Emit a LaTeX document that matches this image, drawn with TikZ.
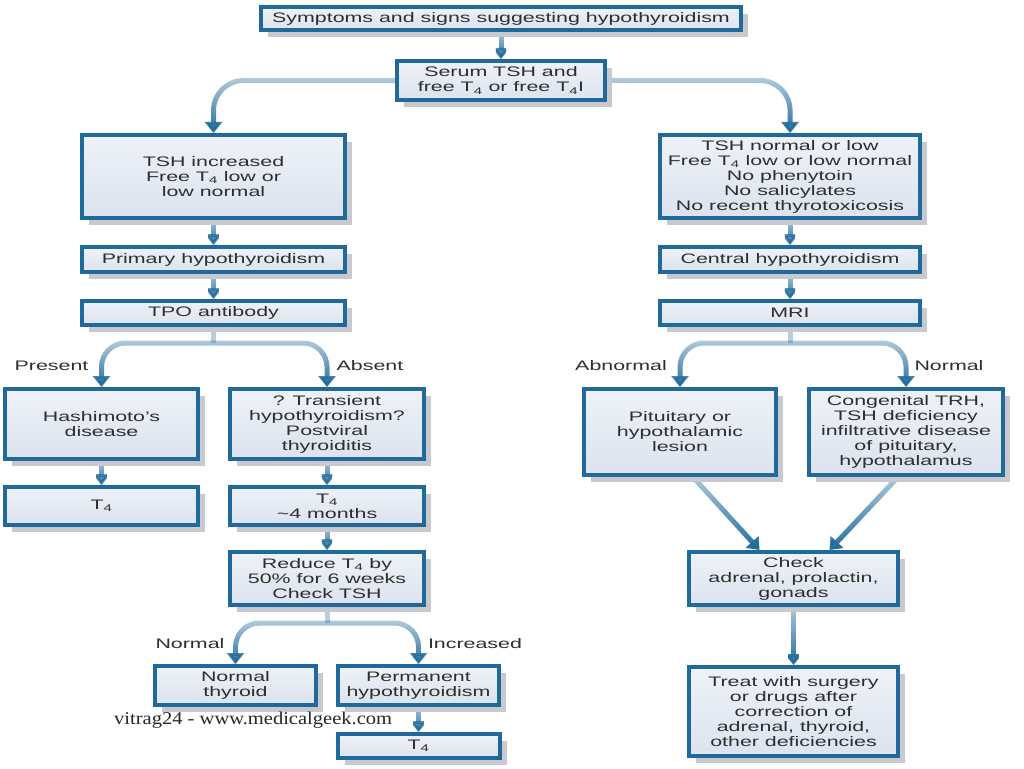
\documentclass[tikz,border=0pt]{standalone}
\usepackage{fontspec}
\setmainfont{Liberation Sans}[FakeStretch=1.55]
\newfontfamily\wmfont{Liberation Serif}[FakeStretch=1.14]
\usetikzlibrary{arrows.meta,shadows,fadings,calc}
\definecolor{bordercol}{HTML}{1F6A9A}
\definecolor{arrowcol}{HTML}{1F6A9A}
\definecolor{fillA}{HTML}{EEF2F8}
\definecolor{fillB}{HTML}{DCE3EE}
\definecolor{shadowcol}{HTML}{C8C9CE}
\definecolor{textcol}{HTML}{2E2E2E}
\tikzfading[name=arrowfade, top color=transparent!65, bottom color=transparent!0]
\pgfdeclarelayer{bglayer}
\pgfdeclarelayer{arrowlayer}
\pgfsetlayers{bglayer,arrowlayer,main}
\begin{document}
\begin{tikzpicture}[x=1pt,y=-1pt,
  box/.style={draw=bordercol, line width=4pt, top color=fillA, bottom color=fillB,
    text=textcol, align=center, inner sep=2pt, font=\fontsize{13.8}{15}\selectfont,
    drop shadow={shadow xshift=7pt, shadow yshift=-7pt, fill=shadowcol, opacity=1}},
  lbl/.style={text=textcol, font=\fontsize{13.8}{15}\selectfont, inner sep=0pt},
  arr/.style={draw=arrowcol, line width=5pt, -{Triangle[width=17pt,length=11pt]}, path fading=arrowfade},
  stemline/.style={draw=arrowcol!32, line width=5pt},
  branch/.style={arr, rounded corners=24pt},
  bigbranch/.style={arr, rounded corners=30pt}]
\begin{pgfonlayer}{bglayer}
\fill[white] (0,0) rectangle (1024,768);
\end{pgfonlayer}
\useasboundingbox (0,0) rectangle (1024,768);

% left column
\node[box, minimum width=480, minimum height=23] (top) at (501,18.5) {Symptoms and signs suggesting hypothyroidism};
\node[box, minimum width=208, minimum height=39] (serum) at (501,80.5) {Serum TSH and\\free T\textsubscript{4} or free T\textsubscript{4}I};
\node[box, minimum width=263, minimum height=83] (tshinc) at (213.5,176.5) {TSH increased\\Free T\textsubscript{4} low or\\low normal};
\node[box, minimum width=263, minimum height=25] (prim) at (213.5,259.5) {Primary hypothyroidism};
\node[box, minimum width=263, minimum height=24] (tpo) at (213.5,313) {TPO antibody};
\node[box, minimum width=193, minimum height=70] (hash) at (101.5,424) {Hashimoto's\\disease};
\node[box, minimum width=193, minimum height=38] (t4a) at (101.5,506) {T\textsubscript{4}};
\node[box, minimum width=194, minimum height=70] (trans) at (327,424) {? Transient\\hypothyroidism?\\Postviral\\thyroiditis};
\node[box, minimum width=194, minimum height=38] (t4m) at (327,506) {T\textsubscript{4}\\\textasciitilde 4 months};
\node[box, minimum width=194, minimum height=53] (reduce) at (327,578.5) {Reduce T\textsubscript{4} by\\50\% for 6 weeks\\Check TSH};
\node[box, minimum width=161, minimum height=39] (nthy) at (235.5,685.5) {Normal\\thyroid};
\node[box, minimum width=161, minimum height=39] (perm) at (418.5,685.5) {Permanent\\hypothyroidism};
\node[box, minimum width=162, minimum height=24] (t4b) at (418.5,746) {T\textsubscript{4}};

% right column
\node[box, minimum width=260, minimum height=83] (tshn) at (790,176.5) {TSH normal or low\\Free T\textsubscript{4} low or low normal\\No phenytoin\\No salicylates\\No recent thyrotoxicosis};
\node[box, minimum width=260, minimum height=25] (cent) at (790,259.5) {Central hypothyroidism};
\node[box, minimum width=260, minimum height=24] (mri) at (790,313) {MRI};
\node[box, minimum width=192, minimum height=86] (pit) at (680,432) {Pituitary or\\hypothalamic\\lesion};
\node[box, minimum width=194, minimum height=86] (cong) at (906,432) {Congenital TRH,\\TSH deficiency\\infiltrative disease\\of pituitary,\\hypothalamus};
\node[box, minimum width=209, minimum height=53] (chk) at (793.5,578.5) {Check\\adrenal, prolactin,\\gonads};
\node[box, minimum width=209, minimum height=89] (treat) at (793.5,711.5) {Treat with surgery\\or drugs after\\correction of\\adrenal, thyroid,\\other deficiencies};

% labels
\node[lbl] (lpres) at (51.5,366) {Present};
\node[lbl] (labs) at (370,366) {Absent};
\node[lbl] (labn) at (621,366) {Abnormal};
\node[lbl] (lnorm) at (949,366) {Normal};
\node[lbl] (lnorm2) at (190,644) {Normal};
\node[lbl] (linc) at (475,644) {Increased};

% connectors
\begin{pgfonlayer}{arrowlayer}
\draw[arr] (top) -- (serum);
\draw[bigbranch] (serum.west) -| (tshinc.north);
\draw[bigbranch] (serum.east) -| (tshn.north);
\draw[arr] (tshinc) -- (prim);
\draw[arr] (prim) -- (tpo);
\coordinate (j1) at ($(tpo.south)+(0,16)$);
\draw[stemline] (tpo.south) -- (j1);
\draw[branch] (j1) -| (hash.north);
\draw[branch] (j1) -| (trans.north);
\draw[arr] (hash) -- (t4a);
\draw[arr] (trans) -- (t4m);
\draw[arr] (t4m) -- (reduce);
\coordinate (j2) at ($(reduce.south)+(0,16)$);
\draw[stemline] (reduce.south) -- (j2);
\draw[branch] (j2) -| (nthy.north);
\draw[branch] (j2) -| (perm.north);
\draw[arr] (perm) -- (t4b);
\draw[arr] (tshn) -- (cent);
\draw[arr] (cent) -- (mri);
\coordinate (j3) at ($(mri.south)+(0,16)$);
\draw[stemline] (mri.south) -- (j3);
\draw[branch] (j3) -| (pit.north);
\draw[branch] (j3) -| (cong.north);
\draw[arr] ($(pit.south)+(13,0)$) -- ($(chk.north)+(-34,0)$);
\draw[arr] ($(cong.south)+(-8,0)$) -- ($(chk.north)+(36,0)$);
\draw[arr] (chk) -- (treat);
\end{pgfonlayer}

% watermark
\node[font=\wmfont\fontsize{18}{20}\selectfont, text=black!85, anchor=base west, inner sep=0pt] (wm) at (114,724) {vitrag24 - www.medicalgeek.com};
\end{tikzpicture}
\end{document}
